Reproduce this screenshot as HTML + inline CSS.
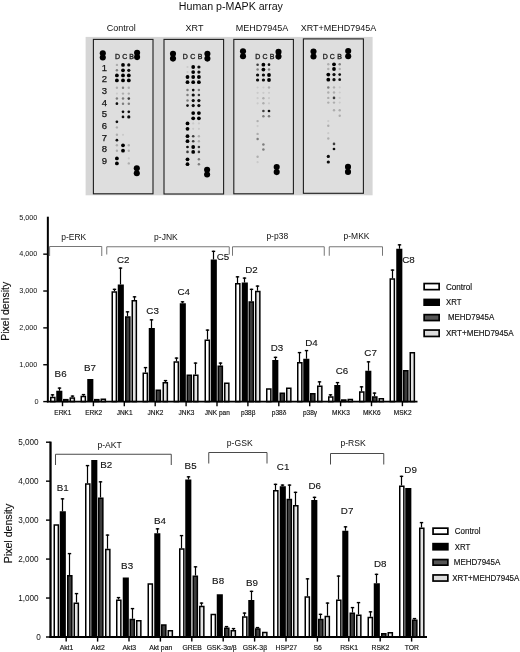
<!DOCTYPE html>
<html><head><meta charset="utf-8"><title>Human p-MAPK array</title>
<style>html,body{margin:0;padding:0;background:#fff}svg{display:block}text{font-family:"Liberation Sans",sans-serif;fill:#111}</style>
</head><body>
<svg width="520" height="652" viewBox="0 0 520 652">
<defs><filter id="bl" x="-50%" y="-50%" width="200%" height="200%"><feGaussianBlur stdDeviation="0.45"/></filter><filter id="bl2" x="-5%" y="-5%" width="110%" height="110%"><feGaussianBlur stdDeviation="0.35"/></filter></defs>
<rect width="520" height="652" fill="#fff"/>
<text x="230.9" y="10" font-size="10.65" text-anchor="middle" >Human p-MAPK array</text>
<text x="121.2" y="31" font-size="9" text-anchor="middle" >Control</text>
<text x="194.5" y="31" font-size="9" text-anchor="middle" >XRT</text>
<text x="262" y="31" font-size="9" text-anchor="middle" >MEHD7945A</text>
<text x="338.5" y="31" font-size="9" text-anchor="middle" >XRT+MEHD7945A</text>
<g filter="url(#bl2)">
<rect x="85.6" y="36.9" width="287" height="158.4" fill="#d6d6d6"/>
<rect x="93.4" y="39.4" width="59.6" height="154.4" fill="#dedede" stroke="#1c1c1c" stroke-width="1.1"/>
<rect x="164.0" y="39.4" width="59.6" height="154.6" fill="#dedede" stroke="#1c1c1c" stroke-width="1.1"/>
<rect x="233.8" y="39.4" width="59.6" height="154.4" fill="#dedede" stroke="#1c1c1c" stroke-width="1.1"/>
<rect x="303.4" y="38.9" width="60.0" height="154.4" fill="#dedede" stroke="#1c1c1c" stroke-width="1.1"/>
</g>
<g filter="url(#bl)">
<circle cx="102.8" cy="53.2" r="3.05" fill="#050505"/><circle cx="102.8" cy="57.5" r="3.05" fill="#050505"/>
<circle cx="137.1" cy="52.8" r="3.05" fill="#050505"/><circle cx="137.1" cy="57.1" r="3.05" fill="#050505"/>
<circle cx="136.8" cy="168.2" r="3.05" fill="#050505"/><circle cx="136.8" cy="173.2" r="3.05" fill="#050505"/>
<circle cx="116.9" cy="64.9" r="1.2" fill="#adadad"/>
<circle cx="116.9" cy="70.3" r="1.25" fill="#7d7d7d"/>
<circle cx="123.0" cy="64.9" r="1.9" fill="#050505"/>
<circle cx="123.0" cy="70.3" r="1.9" fill="#050505"/>
<circle cx="128.8" cy="64.9" r="1.6" fill="#080808"/>
<circle cx="128.8" cy="70.3" r="1.6" fill="#080808"/>
<circle cx="116.9" cy="75.4" r="1.9" fill="#050505"/>
<circle cx="116.9" cy="80.4" r="1.9" fill="#050505"/>
<circle cx="123.0" cy="75.4" r="1.9" fill="#050505"/>
<circle cx="123.0" cy="80.4" r="1.9" fill="#050505"/>
<circle cx="128.8" cy="75.4" r="1.9" fill="#050505"/>
<circle cx="128.8" cy="80.4" r="1.9" fill="#050505"/>
<circle cx="116.9" cy="87.8" r="1.2" fill="#adadad"/>
<circle cx="116.9" cy="93.6" r="1.1" fill="#cacaca"/>
<circle cx="123.0" cy="87.8" r="1.25" fill="#7d7d7d"/>
<circle cx="123.0" cy="93.6" r="1.2" fill="#adadad"/>
<circle cx="128.8" cy="87.8" r="1.2" fill="#adadad"/>
<circle cx="128.8" cy="93.6" r="1.2" fill="#adadad"/>
<circle cx="116.9" cy="98.6" r="1.25" fill="#7d7d7d"/>
<circle cx="116.9" cy="103.7" r="1.35" fill="#0a0a0a"/>
<circle cx="123.0" cy="98.6" r="1.25" fill="#7d7d7d"/>
<circle cx="123.0" cy="103.7" r="1.25" fill="#7d7d7d"/>
<circle cx="128.8" cy="98.6" r="1.3" fill="#3c3c3c"/>
<circle cx="128.8" cy="103.7" r="1.25" fill="#7d7d7d"/>
<circle cx="123.0" cy="111.8" r="1.35" fill="#0a0a0a"/>
<circle cx="123.0" cy="116.9" r="1.35" fill="#0a0a0a"/>
<circle cx="128.8" cy="111.8" r="1.35" fill="#0a0a0a"/>
<circle cx="128.8" cy="116.9" r="1.6" fill="#080808"/>
<circle cx="116.9" cy="121.8" r="1.35" fill="#0a0a0a"/>
<circle cx="116.9" cy="127.4" r="1.2" fill="#adadad"/>
<circle cx="116.9" cy="134.8" r="1.2" fill="#adadad"/>
<circle cx="116.9" cy="140.2" r="1.35" fill="#0a0a0a"/>
<circle cx="123.0" cy="134.8" r="1.1" fill="#cacaca"/>
<circle cx="116.9" cy="145.3" r="1.2" fill="#adadad"/>
<circle cx="116.9" cy="150.7" r="1.2" fill="#adadad"/>
<circle cx="123.0" cy="145.3" r="1.9" fill="#050505"/>
<circle cx="123.0" cy="150.7" r="1.9" fill="#050505"/>
<circle cx="128.8" cy="145.3" r="1.2" fill="#adadad"/>
<circle cx="128.8" cy="150.7" r="1.2" fill="#adadad"/>
<circle cx="116.9" cy="158.4" r="1.9" fill="#050505"/>
<circle cx="116.9" cy="163.4" r="1.9" fill="#050505"/>
<circle cx="128.8" cy="158.4" r="1.1" fill="#cacaca"/>
<circle cx="128.8" cy="163.4" r="1.2" fill="#adadad"/>
<circle cx="173" cy="53.8" r="3.05" fill="#050505"/><circle cx="173" cy="58.6" r="3.05" fill="#050505"/>
<circle cx="207.4" cy="53.8" r="3.05" fill="#050505"/><circle cx="207.4" cy="58.6" r="3.05" fill="#050505"/>
<circle cx="207.1" cy="169.8" r="3.05" fill="#050505"/><circle cx="207.1" cy="174.5" r="3.05" fill="#050505"/>
<circle cx="187.5" cy="67" r="1.1" fill="#cacaca"/>
<circle cx="187.5" cy="72.1" r="1.1" fill="#cacaca"/>
<circle cx="193.2" cy="67" r="1.9" fill="#050505"/>
<circle cx="193.2" cy="72.1" r="1.9" fill="#050505"/>
<circle cx="198.9" cy="67" r="1.6" fill="#080808"/>
<circle cx="198.9" cy="72.1" r="1.6" fill="#080808"/>
<circle cx="187.5" cy="77" r="1.9" fill="#050505"/>
<circle cx="187.5" cy="82.2" r="1.9" fill="#050505"/>
<circle cx="193.2" cy="77" r="1.9" fill="#050505"/>
<circle cx="193.2" cy="82.2" r="1.9" fill="#050505"/>
<circle cx="198.9" cy="77" r="1.9" fill="#050505"/>
<circle cx="198.9" cy="82.2" r="1.9" fill="#050505"/>
<circle cx="187.5" cy="90.1" r="1.25" fill="#7d7d7d"/>
<circle cx="187.5" cy="95" r="1.25" fill="#7d7d7d"/>
<circle cx="193.2" cy="90.1" r="1.35" fill="#0a0a0a"/>
<circle cx="193.2" cy="95" r="1.6" fill="#080808"/>
<circle cx="198.9" cy="90.1" r="1.25" fill="#7d7d7d"/>
<circle cx="198.9" cy="95" r="1.3" fill="#3c3c3c"/>
<circle cx="187.5" cy="100.6" r="1.25" fill="#7d7d7d"/>
<circle cx="187.5" cy="105.6" r="1.35" fill="#0a0a0a"/>
<circle cx="193.2" cy="100.6" r="1.6" fill="#080808"/>
<circle cx="193.2" cy="105.6" r="1.6" fill="#080808"/>
<circle cx="198.9" cy="100.6" r="1.6" fill="#080808"/>
<circle cx="198.9" cy="105.6" r="1.6" fill="#080808"/>
<circle cx="193.2" cy="113.1" r="1.9" fill="#050505"/>
<circle cx="193.2" cy="118.3" r="1.9" fill="#050505"/>
<circle cx="198.9" cy="113.1" r="1.9" fill="#050505"/>
<circle cx="198.9" cy="118.3" r="1.9" fill="#050505"/>
<circle cx="187.5" cy="123.4" r="1.9" fill="#050505"/>
<circle cx="187.5" cy="128.8" r="1.9" fill="#050505"/>
<circle cx="193.2" cy="123.4" r="1.1" fill="#cacaca"/>
<circle cx="193.2" cy="128.8" r="1.1" fill="#cacaca"/>
<circle cx="198.9" cy="123.4" r="1.1" fill="#cacaca"/>
<circle cx="198.9" cy="128.8" r="1.1" fill="#cacaca"/>
<circle cx="187.5" cy="136.2" r="1.9" fill="#050505"/>
<circle cx="187.5" cy="141.2" r="1.9" fill="#050505"/>
<circle cx="193.2" cy="136.2" r="1.3" fill="#3c3c3c"/>
<circle cx="193.2" cy="141.2" r="1.3" fill="#3c3c3c"/>
<circle cx="198.9" cy="136.2" r="1.2" fill="#adadad"/>
<circle cx="198.9" cy="141.2" r="1.2" fill="#adadad"/>
<circle cx="187.5" cy="147" r="1.35" fill="#0a0a0a"/>
<circle cx="187.5" cy="151.9" r="1.3" fill="#3c3c3c"/>
<circle cx="193.2" cy="147" r="1.9" fill="#050505"/>
<circle cx="193.2" cy="151.9" r="1.9" fill="#050505"/>
<circle cx="198.9" cy="147" r="1.3" fill="#3c3c3c"/>
<circle cx="198.9" cy="151.9" r="1.3" fill="#3c3c3c"/>
<circle cx="187.5" cy="159.3" r="1.9" fill="#050505"/>
<circle cx="187.5" cy="164.2" r="1.9" fill="#050505"/>
<circle cx="198.9" cy="159.3" r="1.25" fill="#7d7d7d"/>
<circle cx="198.9" cy="164.2" r="1.25" fill="#7d7d7d"/>
<circle cx="243" cy="51.2" r="3.05" fill="#050505"/><circle cx="243" cy="56.2" r="3.05" fill="#050505"/>
<circle cx="278.5" cy="51.9" r="3.05" fill="#050505"/><circle cx="278.5" cy="56.6" r="3.05" fill="#050505"/>
<circle cx="276.7" cy="167.1" r="3.05" fill="#050505"/><circle cx="276.7" cy="172.1" r="3.05" fill="#050505"/>
<circle cx="257.6" cy="64.7" r="1.3" fill="#3c3c3c"/>
<circle cx="257.6" cy="69.6" r="1.25" fill="#7d7d7d"/>
<circle cx="263.4" cy="64.7" r="1.9" fill="#050505"/>
<circle cx="263.4" cy="69.6" r="1.9" fill="#050505"/>
<circle cx="269.0" cy="64.7" r="1.35" fill="#0a0a0a"/>
<circle cx="269.0" cy="69.6" r="1.25" fill="#7d7d7d"/>
<circle cx="257.6" cy="75" r="1.6" fill="#080808"/>
<circle cx="257.6" cy="80" r="1.6" fill="#080808"/>
<circle cx="263.4" cy="75" r="1.6" fill="#080808"/>
<circle cx="263.4" cy="80" r="1.6" fill="#080808"/>
<circle cx="269.0" cy="75" r="1.9" fill="#050505"/>
<circle cx="269.0" cy="80" r="1.9" fill="#050505"/>
<circle cx="257.6" cy="87.5" r="1.1" fill="#cacaca"/>
<circle cx="257.6" cy="92.8" r="1.1" fill="#cacaca"/>
<circle cx="263.4" cy="87.5" r="1.1" fill="#cacaca"/>
<circle cx="263.4" cy="92.8" r="1.1" fill="#cacaca"/>
<circle cx="269.0" cy="87.5" r="1.2" fill="#adadad"/>
<circle cx="269.0" cy="92.8" r="1.1" fill="#cacaca"/>
<circle cx="257.6" cy="98.2" r="1.1" fill="#cacaca"/>
<circle cx="257.6" cy="103.3" r="1.1" fill="#cacaca"/>
<circle cx="263.4" cy="98.2" r="1.2" fill="#adadad"/>
<circle cx="263.4" cy="103.3" r="1.2" fill="#adadad"/>
<circle cx="269.0" cy="98.2" r="1.1" fill="#cacaca"/>
<circle cx="269.0" cy="103.3" r="1.1" fill="#cacaca"/>
<circle cx="263.4" cy="111" r="1.3" fill="#3c3c3c"/>
<circle cx="263.4" cy="116.3" r="1.25" fill="#7d7d7d"/>
<circle cx="269.0" cy="111" r="1.35" fill="#0a0a0a"/>
<circle cx="269.0" cy="116.3" r="1.25" fill="#7d7d7d"/>
<circle cx="257.6" cy="121.1" r="1.2" fill="#adadad"/>
<circle cx="257.6" cy="126.1" r="1.1" fill="#cacaca"/>
<circle cx="257.6" cy="133.9" r="1.2" fill="#adadad"/>
<circle cx="257.6" cy="139.1" r="1.25" fill="#7d7d7d"/>
<circle cx="263.4" cy="144.5" r="1.25" fill="#7d7d7d"/>
<circle cx="263.4" cy="149.6" r="1.25" fill="#7d7d7d"/>
<circle cx="257.6" cy="156.8" r="1.2" fill="#adadad"/>
<circle cx="257.6" cy="162.2" r="1.1" fill="#cacaca"/>
<circle cx="313.5" cy="51.5" r="3.05" fill="#050505"/><circle cx="313.5" cy="56.5" r="3.05" fill="#050505"/>
<circle cx="348.2" cy="51.1" r="3.05" fill="#050505"/><circle cx="348.2" cy="56.2" r="3.05" fill="#050505"/>
<circle cx="348" cy="166.9" r="3.05" fill="#050505"/><circle cx="348" cy="171.9" r="3.05" fill="#050505"/>
<circle cx="328.3" cy="64.3" r="1.2" fill="#adadad"/>
<circle cx="328.3" cy="69" r="1.2" fill="#adadad"/>
<circle cx="334.0" cy="64.3" r="1.9" fill="#050505"/>
<circle cx="334.0" cy="69" r="1.9" fill="#050505"/>
<circle cx="339.7" cy="64.3" r="1.25" fill="#7d7d7d"/>
<circle cx="339.7" cy="69" r="1.2" fill="#adadad"/>
<circle cx="328.3" cy="74.6" r="1.9" fill="#050505"/>
<circle cx="328.3" cy="79.7" r="1.9" fill="#050505"/>
<circle cx="334.0" cy="74.6" r="1.6" fill="#080808"/>
<circle cx="334.0" cy="79.7" r="1.6" fill="#080808"/>
<circle cx="339.7" cy="74.6" r="1.35" fill="#0a0a0a"/>
<circle cx="339.7" cy="79.7" r="1.35" fill="#0a0a0a"/>
<circle cx="328.3" cy="87.4" r="1.25" fill="#7d7d7d"/>
<circle cx="328.3" cy="92.5" r="1.2" fill="#adadad"/>
<circle cx="334.0" cy="87.4" r="1.2" fill="#adadad"/>
<circle cx="334.0" cy="92.5" r="1.2" fill="#adadad"/>
<circle cx="339.7" cy="87.4" r="1.1" fill="#cacaca"/>
<circle cx="339.7" cy="92.5" r="1.1" fill="#cacaca"/>
<circle cx="328.3" cy="97.9" r="1.2" fill="#adadad"/>
<circle cx="328.3" cy="102.6" r="1.2" fill="#adadad"/>
<circle cx="334.0" cy="97.9" r="1.3" fill="#3c3c3c"/>
<circle cx="334.0" cy="102.6" r="1.2" fill="#adadad"/>
<circle cx="339.7" cy="97.9" r="1.1" fill="#cacaca"/>
<circle cx="339.7" cy="102.6" r="1.1" fill="#cacaca"/>
<circle cx="334.0" cy="110.3" r="1.2" fill="#adadad"/>
<circle cx="339.7" cy="110.3" r="1.2" fill="#adadad"/>
<circle cx="339.7" cy="115.7" r="1.2" fill="#adadad"/>
<circle cx="328.3" cy="121.1" r="1.1" fill="#cacaca"/>
<circle cx="328.3" cy="125.7" r="1.2" fill="#adadad"/>
<circle cx="328.3" cy="133.2" r="1.1" fill="#cacaca"/>
<circle cx="328.3" cy="138.5" r="1.2" fill="#adadad"/>
<circle cx="334.0" cy="143.9" r="1.3" fill="#3c3c3c"/>
<circle cx="334.0" cy="149" r="1.35" fill="#0a0a0a"/>
<circle cx="328.3" cy="156.4" r="1.6" fill="#080808"/>
<circle cx="328.3" cy="162" r="1.6" fill="#080808"/>
</g>
<text x="117.6" y="58.9" font-size="7" text-anchor="middle" fill="#222" stroke="#222" stroke-width="0.3">D</text>
<text x="124.7" y="58.9" font-size="7" text-anchor="middle" fill="#222" stroke="#222" stroke-width="0.3">C</text>
<text x="131.7" y="58.9" font-size="7" text-anchor="middle" fill="#222" stroke="#222" stroke-width="0.3">B</text>
<text x="185.3" y="59.1" font-size="7" text-anchor="middle" fill="#222" stroke="#222" stroke-width="0.3">D</text>
<text x="192.7" y="59.1" font-size="7" text-anchor="middle" fill="#222" stroke="#222" stroke-width="0.3">C</text>
<text x="200" y="59.1" font-size="7" text-anchor="middle" fill="#222" stroke="#222" stroke-width="0.3">B</text>
<text x="257.9" y="58.9" font-size="7" text-anchor="middle" fill="#222" stroke="#222" stroke-width="0.3">D</text>
<text x="265" y="58.9" font-size="7" text-anchor="middle" fill="#222" stroke="#222" stroke-width="0.3">C</text>
<text x="272.1" y="58.9" font-size="7" text-anchor="middle" fill="#222" stroke="#222" stroke-width="0.3">B</text>
<text x="325.2" y="58.6" font-size="7" text-anchor="middle" fill="#222" stroke="#222" stroke-width="0.3">D</text>
<text x="332.3" y="58.6" font-size="7" text-anchor="middle" fill="#222" stroke="#222" stroke-width="0.3">C</text>
<text x="339.7" y="58.6" font-size="7" text-anchor="middle" fill="#222" stroke="#222" stroke-width="0.3">B</text>
<text x="104.4" y="70.60000000000001" font-size="9.5" text-anchor="middle" fill="#1a1a1a" stroke="#1a1a1a" stroke-width="0.25">1</text>
<text x="104.4" y="82.4" font-size="9.5" text-anchor="middle" fill="#1a1a1a" stroke="#1a1a1a" stroke-width="0.25">2</text>
<text x="104.4" y="93.9" font-size="9.5" text-anchor="middle" fill="#1a1a1a" stroke="#1a1a1a" stroke-width="0.25">3</text>
<text x="104.4" y="105.60000000000001" font-size="9.5" text-anchor="middle" fill="#1a1a1a" stroke="#1a1a1a" stroke-width="0.25">4</text>
<text x="104.4" y="117.2" font-size="9.5" text-anchor="middle" fill="#1a1a1a" stroke="#1a1a1a" stroke-width="0.25">5</text>
<text x="104.4" y="128.8" font-size="9.5" text-anchor="middle" fill="#1a1a1a" stroke="#1a1a1a" stroke-width="0.25">6</text>
<text x="104.4" y="140.70000000000002" font-size="9.5" text-anchor="middle" fill="#1a1a1a" stroke="#1a1a1a" stroke-width="0.25">7</text>
<text x="104.4" y="151.70000000000002" font-size="9.5" text-anchor="middle" fill="#1a1a1a" stroke="#1a1a1a" stroke-width="0.25">8</text>
<text x="104.4" y="163.5" font-size="9.5" text-anchor="middle" fill="#1a1a1a" stroke="#1a1a1a" stroke-width="0.25">9</text>
<rect x="50.75" y="397.50" width="4.10" height="4.10" fill="#fff" stroke="#000" stroke-width="1.5"/>
<path d="M52.50 396.75V394.25" stroke="#000" stroke-width="1.2" fill="none"/><path d="M50.80 394.85H54.20" stroke="#000" stroke-width="1.4" fill="none"/>
<rect x="56.25" y="390.75" width="6.10" height="10.85" fill="#000"/>
<path d="M59.50 390.75V387.50" stroke="#000" stroke-width="1.2" fill="none"/><path d="M57.80 388.10H61.20" stroke="#000" stroke-width="1.4" fill="none"/>
<rect x="63.75" y="399.65" width="4.10" height="1.95" fill="#3c3c3c" stroke="#000" stroke-width="1.5"/>
<rect x="70.25" y="398.05" width="4.10" height="3.55" fill="#e4e4e4" stroke="#000" stroke-width="1.5"/>
<path d="M72.50 397.30V395.50" stroke="#000" stroke-width="1.2" fill="none"/><path d="M70.80 396.10H74.20" stroke="#000" stroke-width="1.4" fill="none"/>
<rect x="81.25" y="396.50" width="4.10" height="5.10" fill="#fff" stroke="#000" stroke-width="1.5"/>
<path d="M83.50 395.75V394.00" stroke="#000" stroke-width="1.2" fill="none"/><path d="M81.80 394.60H85.20" stroke="#000" stroke-width="1.4" fill="none"/>
<rect x="87.25" y="379.00" width="6.10" height="22.60" fill="#000"/>
<rect x="94.75" y="399.65" width="4.10" height="1.95" fill="#3c3c3c" stroke="#000" stroke-width="1.5"/>
<rect x="101.25" y="399.25" width="4.10" height="2.35" fill="#e4e4e4" stroke="#000" stroke-width="1.5"/>
<rect x="112.25" y="292.00" width="4.10" height="109.60" fill="#fff" stroke="#000" stroke-width="1.5"/>
<path d="M114.50 291.25V288.75" stroke="#000" stroke-width="1.2" fill="none"/><path d="M112.80 289.35H116.20" stroke="#000" stroke-width="1.4" fill="none"/>
<rect x="117.75" y="284.50" width="6.10" height="117.10" fill="#000"/>
<path d="M120.50 284.50V267.50" stroke="#000" stroke-width="1.2" fill="none"/><path d="M118.80 268.10H122.20" stroke="#000" stroke-width="1.4" fill="none"/>
<rect x="125.75" y="317.00" width="4.10" height="84.60" fill="#3c3c3c" stroke="#000" stroke-width="1.5"/>
<path d="M127.50 316.25V311.25" stroke="#000" stroke-width="1.2" fill="none"/><path d="M125.80 311.85H129.20" stroke="#000" stroke-width="1.4" fill="none"/>
<rect x="132.25" y="300.75" width="4.10" height="100.85" fill="#e4e4e4" stroke="#000" stroke-width="1.5"/>
<path d="M134.50 300.00V296.25" stroke="#000" stroke-width="1.2" fill="none"/><path d="M132.80 296.85H136.20" stroke="#000" stroke-width="1.4" fill="none"/>
<rect x="143.25" y="373.25" width="4.10" height="28.35" fill="#fff" stroke="#000" stroke-width="1.5"/>
<path d="M145.50 372.50V367.00" stroke="#000" stroke-width="1.2" fill="none"/><path d="M143.80 367.60H147.20" stroke="#000" stroke-width="1.4" fill="none"/>
<rect x="148.75" y="328.00" width="6.10" height="73.60" fill="#000"/>
<path d="M151.50 328.00V319.25" stroke="#000" stroke-width="1.2" fill="none"/><path d="M149.80 319.85H153.20" stroke="#000" stroke-width="1.4" fill="none"/>
<rect x="156.25" y="390.25" width="4.10" height="11.35" fill="#3c3c3c" stroke="#000" stroke-width="1.5"/>
<rect x="163.25" y="382.75" width="4.10" height="18.85" fill="#e4e4e4" stroke="#000" stroke-width="1.5"/>
<path d="M165.50 382.00V380.00" stroke="#000" stroke-width="1.2" fill="none"/><path d="M163.80 380.60H167.20" stroke="#000" stroke-width="1.4" fill="none"/>
<rect x="174.25" y="362.00" width="4.10" height="39.60" fill="#fff" stroke="#000" stroke-width="1.5"/>
<path d="M176.50 361.25V357.50" stroke="#000" stroke-width="1.2" fill="none"/><path d="M174.80 358.10H178.20" stroke="#000" stroke-width="1.4" fill="none"/>
<rect x="179.75" y="303.25" width="6.10" height="98.35" fill="#000"/>
<path d="M182.50 303.25V301.25" stroke="#000" stroke-width="1.2" fill="none"/><path d="M180.80 301.85H184.20" stroke="#000" stroke-width="1.4" fill="none"/>
<rect x="187.25" y="375.25" width="4.10" height="26.35" fill="#3c3c3c" stroke="#000" stroke-width="1.5"/>
<rect x="193.75" y="375.25" width="4.10" height="26.35" fill="#e4e4e4" stroke="#000" stroke-width="1.5"/>
<path d="M195.50 374.50V362.50" stroke="#000" stroke-width="1.2" fill="none"/><path d="M193.80 363.10H197.20" stroke="#000" stroke-width="1.4" fill="none"/>
<rect x="205.25" y="340.25" width="4.10" height="61.35" fill="#fff" stroke="#000" stroke-width="1.5"/>
<path d="M207.50 339.50V329.50" stroke="#000" stroke-width="1.2" fill="none"/><path d="M205.80 330.10H209.20" stroke="#000" stroke-width="1.4" fill="none"/>
<rect x="210.75" y="259.50" width="6.10" height="142.10" fill="#000"/>
<path d="M213.50 259.50V250.75" stroke="#000" stroke-width="1.2" fill="none"/><path d="M211.80 251.35H215.20" stroke="#000" stroke-width="1.4" fill="none"/>
<rect x="218.25" y="366.25" width="4.10" height="35.35" fill="#3c3c3c" stroke="#000" stroke-width="1.5"/>
<path d="M220.50 365.50V362.50" stroke="#000" stroke-width="1.2" fill="none"/><path d="M218.80 363.10H222.20" stroke="#000" stroke-width="1.4" fill="none"/>
<rect x="224.75" y="383.25" width="4.10" height="18.35" fill="#e4e4e4" stroke="#000" stroke-width="1.5"/>
<rect x="235.75" y="283.75" width="4.10" height="117.85" fill="#fff" stroke="#000" stroke-width="1.5"/>
<path d="M237.50 283.00V276.25" stroke="#000" stroke-width="1.2" fill="none"/><path d="M235.80 276.85H239.20" stroke="#000" stroke-width="1.4" fill="none"/>
<rect x="241.75" y="282.50" width="6.10" height="119.10" fill="#000"/>
<path d="M244.50 282.50V277.50" stroke="#000" stroke-width="1.2" fill="none"/><path d="M242.80 278.10H246.20" stroke="#000" stroke-width="1.4" fill="none"/>
<rect x="249.25" y="302.00" width="4.10" height="99.60" fill="#3c3c3c" stroke="#000" stroke-width="1.5"/>
<path d="M251.50 301.25V288.75" stroke="#000" stroke-width="1.2" fill="none"/><path d="M249.80 289.35H253.20" stroke="#000" stroke-width="1.4" fill="none"/>
<rect x="255.75" y="291.50" width="4.10" height="110.10" fill="#e4e4e4" stroke="#000" stroke-width="1.5"/>
<path d="M257.50 290.75V285.50" stroke="#000" stroke-width="1.2" fill="none"/><path d="M255.80 286.10H259.20" stroke="#000" stroke-width="1.4" fill="none"/>
<rect x="266.75" y="389.00" width="4.10" height="12.60" fill="#fff" stroke="#000" stroke-width="1.5"/>
<rect x="272.25" y="360.00" width="6.10" height="41.60" fill="#000"/>
<path d="M275.50 360.00V356.75" stroke="#000" stroke-width="1.2" fill="none"/><path d="M273.80 357.35H277.20" stroke="#000" stroke-width="1.4" fill="none"/>
<rect x="280.25" y="393.25" width="4.10" height="8.35" fill="#3c3c3c" stroke="#000" stroke-width="1.5"/>
<rect x="286.75" y="388.25" width="4.10" height="13.35" fill="#e4e4e4" stroke="#000" stroke-width="1.5"/>
<rect x="297.75" y="362.75" width="4.10" height="38.85" fill="#fff" stroke="#000" stroke-width="1.5"/>
<path d="M299.50 362.00V352.00" stroke="#000" stroke-width="1.2" fill="none"/><path d="M297.80 352.60H301.20" stroke="#000" stroke-width="1.4" fill="none"/>
<rect x="303.25" y="358.75" width="6.10" height="42.85" fill="#000"/>
<path d="M306.50 358.75V350.00" stroke="#000" stroke-width="1.2" fill="none"/><path d="M304.80 350.60H308.20" stroke="#000" stroke-width="1.4" fill="none"/>
<rect x="310.75" y="393.75" width="4.10" height="7.85" fill="#3c3c3c" stroke="#000" stroke-width="1.5"/>
<rect x="317.75" y="386.25" width="4.10" height="15.35" fill="#e4e4e4" stroke="#000" stroke-width="1.5"/>
<path d="M319.50 385.50V381.25" stroke="#000" stroke-width="1.2" fill="none"/><path d="M317.80 381.85H321.20" stroke="#000" stroke-width="1.4" fill="none"/>
<rect x="328.75" y="397.00" width="4.10" height="4.60" fill="#fff" stroke="#000" stroke-width="1.5"/>
<path d="M330.50 396.25V394.25" stroke="#000" stroke-width="1.2" fill="none"/><path d="M328.80 394.85H332.20" stroke="#000" stroke-width="1.4" fill="none"/>
<rect x="334.25" y="385.00" width="6.10" height="16.60" fill="#000"/>
<path d="M337.50 385.00V382.00" stroke="#000" stroke-width="1.2" fill="none"/><path d="M335.80 382.60H339.20" stroke="#000" stroke-width="1.4" fill="none"/>
<rect x="341.75" y="400.00" width="4.10" height="1.60" fill="#3c3c3c" stroke="#000" stroke-width="1.5"/>
<rect x="348.25" y="399.50" width="4.10" height="2.10" fill="#e4e4e4" stroke="#000" stroke-width="1.5"/>
<rect x="359.75" y="392.00" width="4.10" height="9.60" fill="#fff" stroke="#000" stroke-width="1.5"/>
<path d="M361.50 391.25V386.25" stroke="#000" stroke-width="1.2" fill="none"/><path d="M359.80 386.85H363.20" stroke="#000" stroke-width="1.4" fill="none"/>
<rect x="365.25" y="370.75" width="6.10" height="30.85" fill="#000"/>
<path d="M368.50 370.75V361.25" stroke="#000" stroke-width="1.2" fill="none"/><path d="M366.80 361.85H370.20" stroke="#000" stroke-width="1.4" fill="none"/>
<rect x="372.75" y="397.00" width="4.10" height="4.60" fill="#3c3c3c" stroke="#000" stroke-width="1.5"/>
<path d="M374.50 396.25V392.50" stroke="#000" stroke-width="1.2" fill="none"/><path d="M372.80 393.10H376.20" stroke="#000" stroke-width="1.4" fill="none"/>
<rect x="379.25" y="398.75" width="4.10" height="2.85" fill="#e4e4e4" stroke="#000" stroke-width="1.5"/>
<rect x="390.25" y="279.00" width="4.10" height="122.60" fill="#fff" stroke="#000" stroke-width="1.5"/>
<path d="M392.50 278.25V269.50" stroke="#000" stroke-width="1.2" fill="none"/><path d="M390.80 270.10H394.20" stroke="#000" stroke-width="1.4" fill="none"/>
<rect x="396.25" y="248.75" width="6.10" height="152.85" fill="#000"/>
<path d="M399.50 248.75V244.25" stroke="#000" stroke-width="1.2" fill="none"/><path d="M397.80 244.85H401.20" stroke="#000" stroke-width="1.4" fill="none"/>
<rect x="403.75" y="370.75" width="4.10" height="30.85" fill="#3c3c3c" stroke="#000" stroke-width="1.5"/>
<rect x="410.25" y="352.75" width="4.10" height="48.85" fill="#e4e4e4" stroke="#000" stroke-width="1.5"/>
<path d="M47.85 216.70000000000002V402.3" stroke="#000" stroke-width="2.0" fill="none"/>
<path d="M46.85 401.6H417.5" stroke="#000" stroke-width="1.9" fill="none"/>
<path d="M43.25 401.60H47.85" stroke="#000" stroke-width="1.4"/>
<text x="38.45" y="403.93" font-size="7.3" text-anchor="end" fill="#2a2a2a">0</text>
<path d="M43.25 364.74H47.85" stroke="#000" stroke-width="1.4"/>
<text x="37.45" y="367.07" font-size="7.3" text-anchor="end" fill="#2a2a2a">1,000</text>
<path d="M43.25 327.88H47.85" stroke="#000" stroke-width="1.4"/>
<text x="37.45" y="330.21" font-size="7.3" text-anchor="end" fill="#2a2a2a">2,000</text>
<path d="M43.25 291.02H47.85" stroke="#000" stroke-width="1.4"/>
<text x="37.45" y="293.35" font-size="7.3" text-anchor="end" fill="#2a2a2a">3,000</text>
<path d="M43.25 254.16H47.85" stroke="#000" stroke-width="1.4"/>
<text x="37.45" y="256.49" font-size="7.3" text-anchor="end" fill="#2a2a2a">4,000</text>
<text x="37.45" y="219.63" font-size="7.3" text-anchor="end" fill="#2a2a2a">5,000</text>
<path d="M62.50 401.6V406.20000000000005" stroke="#000" stroke-width="1.4"/>
<text x="62.8" y="414.8" font-size="6.5" text-anchor="middle" fill="#111" stroke="#111" stroke-width="0.15">ERK1</text>
<path d="M93.40 401.6V406.20000000000005" stroke="#000" stroke-width="1.4"/>
<text x="93.7" y="414.8" font-size="6.5" text-anchor="middle" fill="#111" stroke="#111" stroke-width="0.15">ERK2</text>
<path d="M124.30 401.6V406.20000000000005" stroke="#000" stroke-width="1.4"/>
<text x="124.6" y="414.8" font-size="6.5" text-anchor="middle" fill="#111" stroke="#111" stroke-width="0.15">JNK1</text>
<path d="M155.20 401.6V406.20000000000005" stroke="#000" stroke-width="1.4"/>
<text x="155.5" y="414.8" font-size="6.5" text-anchor="middle" fill="#111" stroke="#111" stroke-width="0.15">JNK2</text>
<path d="M186.10 401.6V406.20000000000005" stroke="#000" stroke-width="1.4"/>
<text x="186.4" y="414.8" font-size="6.5" text-anchor="middle" fill="#111" stroke="#111" stroke-width="0.15">JNK3</text>
<path d="M217.00 401.6V406.20000000000005" stroke="#000" stroke-width="1.4"/>
<text x="217.3" y="414.8" font-size="6.5" text-anchor="middle" fill="#111" stroke="#111" stroke-width="0.15">JNK pan</text>
<path d="M247.90 401.6V406.20000000000005" stroke="#000" stroke-width="1.4"/>
<text x="248.2" y="414.8" font-size="6.5" text-anchor="middle" fill="#111" stroke="#111" stroke-width="0.15">p38β</text>
<path d="M278.80 401.6V406.20000000000005" stroke="#000" stroke-width="1.4"/>
<text x="279.1" y="414.8" font-size="6.5" text-anchor="middle" fill="#111" stroke="#111" stroke-width="0.15">p38δ</text>
<path d="M309.70 401.6V406.20000000000005" stroke="#000" stroke-width="1.4"/>
<text x="310.0" y="414.8" font-size="6.5" text-anchor="middle" fill="#111" stroke="#111" stroke-width="0.15">p38γ</text>
<path d="M340.60 401.6V406.20000000000005" stroke="#000" stroke-width="1.4"/>
<text x="340.9" y="414.8" font-size="6.5" text-anchor="middle" fill="#111" stroke="#111" stroke-width="0.15">MKK3</text>
<path d="M371.50 401.6V406.20000000000005" stroke="#000" stroke-width="1.4"/>
<text x="371.8" y="414.8" font-size="6.5" text-anchor="middle" fill="#111" stroke="#111" stroke-width="0.15">MKK6</text>
<path d="M402.40 401.6V406.20000000000005" stroke="#000" stroke-width="1.4"/>
<text x="402.7" y="414.8" font-size="6.5" text-anchor="middle" fill="#111" stroke="#111" stroke-width="0.15">MSK2</text>
<text x="60.6" y="377" font-size="9.8" text-anchor="middle" stroke="#111" stroke-width="0.12">B6</text>
<text x="90" y="370.75" font-size="9.8" text-anchor="middle" stroke="#111" stroke-width="0.12">B7</text>
<text x="123.3" y="263.2" font-size="9.8" text-anchor="middle" stroke="#111" stroke-width="0.12">C2</text>
<text x="152.6" y="314.25" font-size="9.8" text-anchor="middle" stroke="#111" stroke-width="0.12">C3</text>
<text x="183.75" y="295" font-size="9.8" text-anchor="middle" stroke="#111" stroke-width="0.12">C4</text>
<text x="222.9" y="260" font-size="9.8" text-anchor="middle" stroke="#111" stroke-width="0.12">C5</text>
<text x="251.5" y="272.5" font-size="9.8" text-anchor="middle" stroke="#111" stroke-width="0.12">D2</text>
<text x="276.9" y="350.75" font-size="9.8" text-anchor="middle" stroke="#111" stroke-width="0.12">D3</text>
<text x="311.5" y="346.25" font-size="9.8" text-anchor="middle" stroke="#111" stroke-width="0.12">D4</text>
<text x="341.9" y="373.75" font-size="9.8" text-anchor="middle" stroke="#111" stroke-width="0.12">C6</text>
<text x="370.6" y="355.75" font-size="9.8" text-anchor="middle" stroke="#111" stroke-width="0.12">C7</text>
<text x="408.4" y="262.5" font-size="9.8" text-anchor="middle" stroke="#111" stroke-width="0.12">C8</text>
<path d="M49.6 256V246.5H101.75V256" stroke="#666" stroke-width="0.9" fill="none"/>
<text x="73.75" y="240" font-size="8.5" text-anchor="middle" >p-ERK</text>
<path d="M106.75 254.5V246.75H229.25V254.5" stroke="#666" stroke-width="0.9" fill="none"/>
<text x="165.9" y="240" font-size="8.5" text-anchor="middle" >p-JNK</text>
<path d="M232.5 255.75V246.75H324.25V255.75" stroke="#666" stroke-width="0.9" fill="none"/>
<text x="277.25" y="239" font-size="8.5" text-anchor="middle" >p-p38</text>
<path d="M329.25 255.75V246.75H382.5V255.75" stroke="#666" stroke-width="0.9" fill="none"/>
<text x="356.5" y="239.25" font-size="8.5" text-anchor="middle" >p-MKK</text>
<text transform="translate(9.2 311.3) rotate(-90)" font-size="10.5" text-anchor="middle" stroke="#111" stroke-width="0.15">Pixel density</text>
<rect x="424.15" y="283.55" width="15.00" height="6.10" fill="#fff" stroke="#000" stroke-width="1.7"/>
<rect x="423.3" y="298.6" width="16.70" height="7.40" fill="#000"/>
<rect x="424.15" y="314.65" width="15.00" height="5.90" fill="#555" stroke="#000" stroke-width="1.7"/>
<rect x="424.15" y="330.05" width="15.00" height="6.40" fill="#dcdcdc" stroke="#000" stroke-width="1.7"/>
<text x="446" y="289.8" font-size="8.4" text-anchor="start" textLength="26" lengthAdjust="spacingAndGlyphs" stroke="#111" stroke-width="0.15">Control</text>
<text x="446" y="305.4" font-size="8.4" text-anchor="start" textLength="15.4" lengthAdjust="spacingAndGlyphs" stroke="#111" stroke-width="0.15">XRT</text>
<text x="448" y="319.8" font-size="8.4" text-anchor="start" textLength="46.2" lengthAdjust="spacingAndGlyphs" stroke="#111" stroke-width="0.15">MEHD7945A</text>
<text x="446" y="336.1" font-size="8.4" text-anchor="start" textLength="67.7" lengthAdjust="spacingAndGlyphs" stroke="#111" stroke-width="0.15">XRT+MEHD7945A</text>
<rect x="54.25" y="525.00" width="4.10" height="112.00" fill="#fff" stroke="#000" stroke-width="1.5"/>
<rect x="59.75" y="511.25" width="6.10" height="125.75" fill="#000"/>
<path d="M62.50 511.25V498.25" stroke="#000" stroke-width="1.2" fill="none"/><path d="M60.80 498.85H64.20" stroke="#000" stroke-width="1.4" fill="none"/>
<rect x="67.75" y="575.75" width="4.10" height="61.25" fill="#3c3c3c" stroke="#000" stroke-width="1.5"/>
<path d="M69.50 575.00V553.00" stroke="#000" stroke-width="1.2" fill="none"/><path d="M67.80 553.60H71.20" stroke="#000" stroke-width="1.4" fill="none"/>
<rect x="74.25" y="603.25" width="4.10" height="33.75" fill="#e4e4e4" stroke="#000" stroke-width="1.5"/>
<path d="M76.50 602.50V593.00" stroke="#000" stroke-width="1.2" fill="none"/><path d="M74.80 593.60H78.20" stroke="#000" stroke-width="1.4" fill="none"/>
<rect x="85.75" y="484.00" width="4.10" height="153.00" fill="#fff" stroke="#000" stroke-width="1.5"/>
<path d="M87.50 483.25V465.00" stroke="#000" stroke-width="1.2" fill="none"/><path d="M85.80 465.60H89.20" stroke="#000" stroke-width="1.4" fill="none"/>
<rect x="91.25" y="460.00" width="6.10" height="177.00" fill="#000"/>
<rect x="98.75" y="498.25" width="4.10" height="138.75" fill="#3c3c3c" stroke="#000" stroke-width="1.5"/>
<path d="M100.50 497.50V481.25" stroke="#000" stroke-width="1.2" fill="none"/><path d="M98.80 481.85H102.20" stroke="#000" stroke-width="1.4" fill="none"/>
<rect x="105.75" y="549.50" width="4.10" height="87.50" fill="#e4e4e4" stroke="#000" stroke-width="1.5"/>
<path d="M107.50 548.75V534.50" stroke="#000" stroke-width="1.2" fill="none"/><path d="M105.80 535.10H109.20" stroke="#000" stroke-width="1.4" fill="none"/>
<rect x="116.75" y="600.25" width="4.10" height="36.75" fill="#fff" stroke="#000" stroke-width="1.5"/>
<path d="M118.50 599.50V597.00" stroke="#000" stroke-width="1.2" fill="none"/><path d="M116.80 597.60H120.20" stroke="#000" stroke-width="1.4" fill="none"/>
<rect x="122.75" y="577.50" width="6.10" height="59.50" fill="#000"/>
<rect x="130.25" y="619.50" width="4.10" height="17.50" fill="#3c3c3c" stroke="#000" stroke-width="1.5"/>
<path d="M132.50 618.75V608.00" stroke="#000" stroke-width="1.2" fill="none"/><path d="M130.80 608.60H134.20" stroke="#000" stroke-width="1.4" fill="none"/>
<rect x="136.75" y="620.75" width="4.10" height="16.25" fill="#e4e4e4" stroke="#000" stroke-width="1.5"/>
<rect x="148.25" y="584.00" width="4.10" height="53.00" fill="#fff" stroke="#000" stroke-width="1.5"/>
<rect x="154.25" y="533.25" width="6.10" height="103.75" fill="#000"/>
<path d="M157.50 533.25V528.25" stroke="#000" stroke-width="1.2" fill="none"/><path d="M155.80 528.85H159.20" stroke="#000" stroke-width="1.4" fill="none"/>
<rect x="161.75" y="625.00" width="4.10" height="12.00" fill="#3c3c3c" stroke="#000" stroke-width="1.5"/>
<rect x="168.25" y="630.75" width="4.10" height="6.25" fill="#e4e4e4" stroke="#000" stroke-width="1.5"/>
<rect x="179.75" y="549.00" width="4.10" height="88.00" fill="#fff" stroke="#000" stroke-width="1.5"/>
<path d="M181.50 548.25V535.00" stroke="#000" stroke-width="1.2" fill="none"/><path d="M179.80 535.60H183.20" stroke="#000" stroke-width="1.4" fill="none"/>
<rect x="185.25" y="479.50" width="6.10" height="157.50" fill="#000"/>
<path d="M188.50 479.50V476.25" stroke="#000" stroke-width="1.2" fill="none"/><path d="M186.80 476.85H190.20" stroke="#000" stroke-width="1.4" fill="none"/>
<rect x="193.25" y="576.25" width="4.10" height="60.75" fill="#3c3c3c" stroke="#000" stroke-width="1.5"/>
<path d="M195.50 575.50V566.25" stroke="#000" stroke-width="1.2" fill="none"/><path d="M193.80 566.85H197.20" stroke="#000" stroke-width="1.4" fill="none"/>
<rect x="199.75" y="606.50" width="4.10" height="30.50" fill="#e4e4e4" stroke="#000" stroke-width="1.5"/>
<path d="M201.50 605.75V602.50" stroke="#000" stroke-width="1.2" fill="none"/><path d="M199.80 603.10H203.20" stroke="#000" stroke-width="1.4" fill="none"/>
<rect x="211.25" y="614.50" width="4.10" height="22.50" fill="#fff" stroke="#000" stroke-width="1.5"/>
<rect x="216.75" y="594.25" width="6.10" height="42.75" fill="#000"/>
<rect x="224.75" y="628.25" width="4.10" height="8.75" fill="#3c3c3c" stroke="#000" stroke-width="1.5"/>
<path d="M226.50 627.50V626.00" stroke="#000" stroke-width="1.2" fill="none"/><path d="M224.80 626.60H228.20" stroke="#000" stroke-width="1.4" fill="none"/>
<rect x="231.25" y="630.75" width="4.10" height="6.25" fill="#e4e4e4" stroke="#000" stroke-width="1.5"/>
<path d="M233.50 630.00V628.00" stroke="#000" stroke-width="1.2" fill="none"/><path d="M231.80 628.60H235.20" stroke="#000" stroke-width="1.4" fill="none"/>
<rect x="242.75" y="617.00" width="4.10" height="20.00" fill="#fff" stroke="#000" stroke-width="1.5"/>
<path d="M244.50 616.25V612.50" stroke="#000" stroke-width="1.2" fill="none"/><path d="M242.80 613.10H246.20" stroke="#000" stroke-width="1.4" fill="none"/>
<rect x="248.25" y="600.00" width="6.10" height="37.00" fill="#000"/>
<path d="M251.50 600.00V590.75" stroke="#000" stroke-width="1.2" fill="none"/><path d="M249.80 591.35H253.20" stroke="#000" stroke-width="1.4" fill="none"/>
<rect x="255.75" y="629.00" width="4.10" height="8.00" fill="#3c3c3c" stroke="#000" stroke-width="1.5"/>
<path d="M257.50 628.25V627.00" stroke="#000" stroke-width="1.2" fill="none"/><path d="M255.80 627.60H259.20" stroke="#000" stroke-width="1.4" fill="none"/>
<rect x="262.75" y="632.50" width="4.10" height="4.50" fill="#e4e4e4" stroke="#000" stroke-width="1.5"/>
<rect x="273.75" y="490.75" width="4.10" height="146.25" fill="#fff" stroke="#000" stroke-width="1.5"/>
<path d="M275.50 490.00V483.75" stroke="#000" stroke-width="1.2" fill="none"/><path d="M273.80 484.35H277.20" stroke="#000" stroke-width="1.4" fill="none"/>
<rect x="279.75" y="486.25" width="6.10" height="150.75" fill="#000"/>
<path d="M282.50 486.25V484.50" stroke="#000" stroke-width="1.2" fill="none"/><path d="M280.80 485.10H284.20" stroke="#000" stroke-width="1.4" fill="none"/>
<rect x="287.25" y="499.50" width="4.10" height="137.50" fill="#3c3c3c" stroke="#000" stroke-width="1.5"/>
<path d="M289.50 498.75V484.50" stroke="#000" stroke-width="1.2" fill="none"/><path d="M287.80 485.10H291.20" stroke="#000" stroke-width="1.4" fill="none"/>
<rect x="293.75" y="505.75" width="4.10" height="131.25" fill="#e4e4e4" stroke="#000" stroke-width="1.5"/>
<path d="M295.50 505.00V491.75" stroke="#000" stroke-width="1.2" fill="none"/><path d="M293.80 492.35H297.20" stroke="#000" stroke-width="1.4" fill="none"/>
<rect x="305.25" y="597.00" width="4.10" height="40.00" fill="#fff" stroke="#000" stroke-width="1.5"/>
<path d="M307.50 596.25V578.25" stroke="#000" stroke-width="1.2" fill="none"/><path d="M305.80 578.85H309.20" stroke="#000" stroke-width="1.4" fill="none"/>
<rect x="311.25" y="500.00" width="6.10" height="137.00" fill="#000"/>
<path d="M314.50 500.00V496.75" stroke="#000" stroke-width="1.2" fill="none"/><path d="M312.80 497.35H316.20" stroke="#000" stroke-width="1.4" fill="none"/>
<rect x="318.75" y="619.50" width="4.10" height="17.50" fill="#3c3c3c" stroke="#000" stroke-width="1.5"/>
<path d="M320.50 618.75V613.75" stroke="#000" stroke-width="1.2" fill="none"/><path d="M318.80 614.35H322.20" stroke="#000" stroke-width="1.4" fill="none"/>
<rect x="325.25" y="616.50" width="4.10" height="20.50" fill="#e4e4e4" stroke="#000" stroke-width="1.5"/>
<path d="M327.50 615.75V602.50" stroke="#000" stroke-width="1.2" fill="none"/><path d="M325.80 603.10H329.20" stroke="#000" stroke-width="1.4" fill="none"/>
<rect x="336.75" y="600.25" width="4.10" height="36.75" fill="#fff" stroke="#000" stroke-width="1.5"/>
<path d="M338.50 599.50V575.50" stroke="#000" stroke-width="1.2" fill="none"/><path d="M336.80 576.10H340.20" stroke="#000" stroke-width="1.4" fill="none"/>
<rect x="342.25" y="530.75" width="6.10" height="106.25" fill="#000"/>
<path d="M345.50 530.75V526.25" stroke="#000" stroke-width="1.2" fill="none"/><path d="M343.80 526.85H347.20" stroke="#000" stroke-width="1.4" fill="none"/>
<rect x="350.25" y="613.25" width="4.10" height="23.75" fill="#3c3c3c" stroke="#000" stroke-width="1.5"/>
<path d="M352.50 612.50V607.00" stroke="#000" stroke-width="1.2" fill="none"/><path d="M350.80 607.60H354.20" stroke="#000" stroke-width="1.4" fill="none"/>
<rect x="356.75" y="615.25" width="4.10" height="21.75" fill="#e4e4e4" stroke="#000" stroke-width="1.5"/>
<path d="M358.50 614.50V602.00" stroke="#000" stroke-width="1.2" fill="none"/><path d="M356.80 602.60H360.20" stroke="#000" stroke-width="1.4" fill="none"/>
<rect x="368.25" y="617.50" width="4.10" height="19.50" fill="#fff" stroke="#000" stroke-width="1.5"/>
<path d="M370.50 616.75V611.25" stroke="#000" stroke-width="1.2" fill="none"/><path d="M368.80 611.85H372.20" stroke="#000" stroke-width="1.4" fill="none"/>
<rect x="373.75" y="583.25" width="6.10" height="53.75" fill="#000"/>
<path d="M376.50 583.25V573.75" stroke="#000" stroke-width="1.2" fill="none"/><path d="M374.80 574.35H378.20" stroke="#000" stroke-width="1.4" fill="none"/>
<rect x="381.75" y="633.75" width="4.10" height="3.25" fill="#3c3c3c" stroke="#000" stroke-width="1.5"/>
<rect x="388.25" y="632.75" width="4.10" height="4.25" fill="#e4e4e4" stroke="#000" stroke-width="1.5"/>
<rect x="399.75" y="486.25" width="4.10" height="150.75" fill="#fff" stroke="#000" stroke-width="1.5"/>
<path d="M401.50 485.50V475.75" stroke="#000" stroke-width="1.2" fill="none"/><path d="M399.80 476.35H403.20" stroke="#000" stroke-width="1.4" fill="none"/>
<rect x="405.25" y="488.00" width="6.10" height="149.00" fill="#000"/>
<rect x="412.75" y="620.25" width="4.10" height="16.75" fill="#3c3c3c" stroke="#000" stroke-width="1.5"/>
<path d="M414.50 619.50V618.00" stroke="#000" stroke-width="1.2" fill="none"/><path d="M412.80 618.60H416.20" stroke="#000" stroke-width="1.4" fill="none"/>
<rect x="419.75" y="528.25" width="4.10" height="108.75" fill="#e4e4e4" stroke="#000" stroke-width="1.5"/>
<path d="M421.50 527.50V522.00" stroke="#000" stroke-width="1.2" fill="none"/><path d="M419.80 522.60H423.20" stroke="#000" stroke-width="1.4" fill="none"/>
<path d="M50.5 441.59999999999997V637.7" stroke="#000" stroke-width="2.3" fill="none"/>
<path d="M49.35 637.0H427" stroke="#000" stroke-width="1.9" fill="none"/>
<path d="M46.0 637.00H50.5" stroke="#000" stroke-width="1.4"/>
<text x="40.7" y="639.65" font-size="8.2" text-anchor="end" fill="#2a2a2a">0</text>
<path d="M46.0 598.04H50.5" stroke="#000" stroke-width="1.4"/>
<text x="38.7" y="600.69" font-size="8.2" text-anchor="end" fill="#2a2a2a">1,000</text>
<path d="M46.0 559.08H50.5" stroke="#000" stroke-width="1.4"/>
<text x="38.7" y="561.73" font-size="8.2" text-anchor="end" fill="#2a2a2a">2,000</text>
<path d="M46.0 520.12H50.5" stroke="#000" stroke-width="1.4"/>
<text x="38.7" y="522.77" font-size="8.2" text-anchor="end" fill="#2a2a2a">3,000</text>
<path d="M46.0 481.16H50.5" stroke="#000" stroke-width="1.4"/>
<text x="38.7" y="483.81" font-size="8.2" text-anchor="end" fill="#2a2a2a">4,000</text>
<path d="M46.0 442.20H50.5" stroke="#000" stroke-width="1.4"/>
<text x="38.7" y="444.85" font-size="8.2" text-anchor="end" fill="#2a2a2a">5,000</text>
<path d="M66.20 637.0V641.6" stroke="#000" stroke-width="1.4"/>
<text x="66.5" y="650" font-size="6.8" text-anchor="middle" fill="#111" stroke="#111" stroke-width="0.15">Akt1</text>
<path d="M97.60 637.0V641.6" stroke="#000" stroke-width="1.4"/>
<text x="97.9" y="650" font-size="6.8" text-anchor="middle" fill="#111" stroke="#111" stroke-width="0.15">Akt2</text>
<path d="M129.00 637.0V641.6" stroke="#000" stroke-width="1.4"/>
<text x="129.3" y="650" font-size="6.8" text-anchor="middle" fill="#111" stroke="#111" stroke-width="0.15">Akt3</text>
<path d="M160.40 637.0V641.6" stroke="#000" stroke-width="1.4"/>
<text x="160.7" y="650" font-size="6.8" text-anchor="middle" fill="#111" stroke="#111" stroke-width="0.15">Akt pan</text>
<path d="M191.80 637.0V641.6" stroke="#000" stroke-width="1.4"/>
<text x="192.1" y="650" font-size="6.8" text-anchor="middle" fill="#111" stroke="#111" stroke-width="0.15">GREB</text>
<path d="M223.20 637.0V641.6" stroke="#000" stroke-width="1.4"/>
<text x="221.7" y="650" font-size="6.8" text-anchor="middle" fill="#111" stroke="#111" stroke-width="0.15">GSK-3α/β</text>
<path d="M254.60 637.0V641.6" stroke="#000" stroke-width="1.4"/>
<text x="254.9" y="650" font-size="6.8" text-anchor="middle" fill="#111" stroke="#111" stroke-width="0.15">GSK-3β</text>
<path d="M286.00 637.0V641.6" stroke="#000" stroke-width="1.4"/>
<text x="286.3" y="650" font-size="6.8" text-anchor="middle" fill="#111" stroke="#111" stroke-width="0.15">HSP27</text>
<path d="M317.40 637.0V641.6" stroke="#000" stroke-width="1.4"/>
<text x="317.7" y="650" font-size="6.8" text-anchor="middle" fill="#111" stroke="#111" stroke-width="0.15">S6</text>
<path d="M348.80 637.0V641.6" stroke="#000" stroke-width="1.4"/>
<text x="349.1" y="650" font-size="6.8" text-anchor="middle" fill="#111" stroke="#111" stroke-width="0.15">RSK1</text>
<path d="M380.20 637.0V641.6" stroke="#000" stroke-width="1.4"/>
<text x="380.5" y="650" font-size="6.8" text-anchor="middle" fill="#111" stroke="#111" stroke-width="0.15">RSK2</text>
<path d="M411.60 637.0V641.6" stroke="#000" stroke-width="1.4"/>
<text x="411.9" y="650" font-size="6.8" text-anchor="middle" fill="#111" stroke="#111" stroke-width="0.15">TOR</text>
<text x="62.75" y="490.75" font-size="9.8" text-anchor="middle" stroke="#111" stroke-width="0.12">B1</text>
<text x="106.25" y="467.5" font-size="9.8" text-anchor="middle" stroke="#111" stroke-width="0.12">B2</text>
<text x="127.1" y="569.25" font-size="9.8" text-anchor="middle" stroke="#111" stroke-width="0.12">B3</text>
<text x="160" y="523.75" font-size="9.8" text-anchor="middle" stroke="#111" stroke-width="0.12">B4</text>
<text x="190.6" y="469.25" font-size="9.8" text-anchor="middle" stroke="#111" stroke-width="0.12">B5</text>
<text x="218.1" y="583.75" font-size="9.8" text-anchor="middle" stroke="#111" stroke-width="0.12">B8</text>
<text x="251.9" y="586.25" font-size="9.8" text-anchor="middle" stroke="#111" stroke-width="0.12">B9</text>
<text x="283.1" y="470" font-size="9.8" text-anchor="middle" stroke="#111" stroke-width="0.12">C1</text>
<text x="314.75" y="489.25" font-size="9.8" text-anchor="middle" stroke="#111" stroke-width="0.12">D6</text>
<text x="347.1" y="514.25" font-size="9.8" text-anchor="middle" stroke="#111" stroke-width="0.12">D7</text>
<text x="380.25" y="566.75" font-size="9.8" text-anchor="middle" stroke="#111" stroke-width="0.12">D8</text>
<text x="410.6" y="473" font-size="9.8" text-anchor="middle" stroke="#111" stroke-width="0.12">D9</text>
<path d="M55.5 465V454.25H171.25V465" stroke="#4a4a4a" stroke-width="1.0" fill="none"/>
<text x="109.6" y="448.25" font-size="8.6" text-anchor="middle" >p-AKT</text>
<path d="M208.75 463.5V452.5H267V463.5" stroke="#4a4a4a" stroke-width="1.0" fill="none"/>
<text x="239.75" y="446.25" font-size="8.6" text-anchor="middle" >p-GSK</text>
<path d="M330.5 464.5V453.5H383.75V464.5" stroke="#4a4a4a" stroke-width="1.0" fill="none"/>
<text x="353.1" y="446.25" font-size="8.6" text-anchor="middle" >p-RSK</text>
<text transform="translate(12 533.5) rotate(-90)" font-size="10.6" text-anchor="middle" stroke="#111" stroke-width="0.15">Pixel density</text>
<rect x="433.05" y="528.15" width="14.80" height="6.00" fill="#fff" stroke="#000" stroke-width="1.7"/>
<rect x="432.2" y="542.8" width="16.50" height="7.80" fill="#000"/>
<rect x="433.05" y="559.55" width="14.80" height="5.60" fill="#555" stroke="#000" stroke-width="1.7"/>
<rect x="433.05" y="574.95" width="14.80" height="6.10" fill="#dcdcdc" stroke="#000" stroke-width="1.7"/>
<text x="454.8" y="534.4" font-size="8.5" text-anchor="start" textLength="25.8" lengthAdjust="spacingAndGlyphs" stroke="#111" stroke-width="0.15">Control</text>
<text x="454.8" y="549.9" font-size="8.5" text-anchor="start" textLength="15.5" lengthAdjust="spacingAndGlyphs" stroke="#111" stroke-width="0.15">XRT</text>
<text x="453.8" y="565.1" font-size="8.5" text-anchor="start" textLength="46.5" lengthAdjust="spacingAndGlyphs" stroke="#111" stroke-width="0.15">MEHD7945A</text>
<text x="452.3" y="581.4" font-size="8.5" text-anchor="start" textLength="67.1" lengthAdjust="spacingAndGlyphs" stroke="#111" stroke-width="0.15">XRT+MEHD7945A</text>
</svg></body></html>
